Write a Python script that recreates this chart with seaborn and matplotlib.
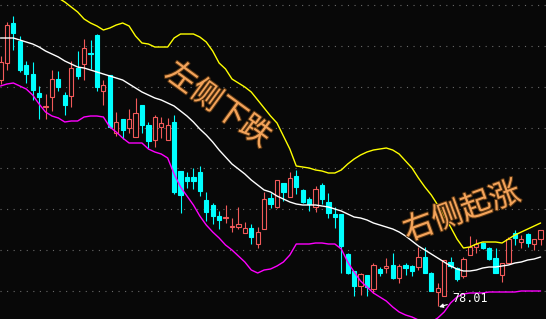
import numpy as np
import pandas as pd
import matplotlib
matplotlib.use("Agg")
import matplotlib.pyplot as plt
import matplotlib.patheffects as pe
import seaborn as sns

# ---- data (price units) ----
opens = [100.6, 102.3, 106.3, 104.5, 102.1, 101.2, 99.3, 97.9, 98.9, 100.7,
         99.1, 99.0, 101.8, 102.2, 103.3, 105.1, 99.5, 101.1, 95.3, 96.7,
         95.8, 94.9, 98.1, 96.1, 94.6, 95.9, 94.6, 96.4, 91.5, 90.9,
         90.9, 91.4, 88.6, 88.1, 87.0, 86.8, 85.9, 85.9, 85.3, 85.8,
         84.2, 85.7, 88.8, 87.9, 90.3, 88.9, 91.0, 89.6, 88.7, 87.9,
         90.1, 88.4, 87.2, 87.2, 83.2, 81.5, 80.0, 81.1, 79.7, 81.7,
         81.8, 82.1, 80.8, 82.1, 82.0, 81.9, 82.9, 81.3, 79.4, 79.0,
         82.4, 81.8, 81.0, 83.1, 83.9, 84.3, 83.8, 82.8, 81.1, 82.3,
         85.3, 84.4, 85.2, 84.2, 84.7]
highs = [103.0, 106.4, 107.0, 105.0, 102.5, 102.4, 100.0, 99.2, 101.6, 101.5,
         99.4, 102.5, 103.5, 104.7, 104.6, 105.2, 100.6, 101.1, 97.4, 96.7,
         97.7, 98.8, 98.1, 96.4, 97.1, 96.9, 96.8, 97.1, 91.5, 91.4,
         91.8, 92.0, 89.4, 88.3, 87.5, 88.1, 86.8, 87.9, 86.4, 86.2,
         85.9, 89.4, 89.3, 90.6, 90.3, 91.4, 91.6, 89.7, 88.9, 90.0,
         90.3, 89.3, 87.9, 87.2, 83.3, 81.5, 81.3, 81.1, 82.3, 81.9,
         82.8, 83.3, 82.2, 82.3, 82.1, 83.9, 83.9, 81.4, 80.3, 82.6,
         82.9, 81.9, 82.9, 85.0, 84.7, 84.4, 83.9, 83.8, 82.3, 84.9,
         85.6, 85.1, 85.3, 84.7, 85.6]
lows = [100.2, 101.6, 103.6, 101.4, 100.3, 98.6, 96.7, 96.7, 97.5, 99.5,
        97.1, 97.9, 100.7, 100.6, 101.7, 99.5, 98.1, 95.8, 95.0, 94.7,
        95.3, 94.9, 95.3, 93.8, 93.9, 94.8, 94.6, 89.2, 87.3, 89.8,
        89.7, 89.0, 86.5, 86.2, 85.7, 86.3, 85.4, 85.7, 85.3, 84.2,
        83.8, 85.7, 87.8, 87.8, 88.5, 88.9, 89.2, 88.3, 87.5, 87.4,
        88.2, 86.8, 85.8, 81.3, 81.2, 79.0, 79.1, 79.0, 79.3, 81.0,
        81.3, 80.7, 80.3, 81.1, 81.0, 81.6, 81.3, 79.5, 78.0, 79.0,
        81.8, 80.5, 80.8, 83.1, 83.3, 83.7, 82.6, 81.3, 80.4, 82.3,
        84.1, 83.8, 83.9, 83.6, 84.1]
closes = [102.4, 106.1, 105.3, 101.6, 101.2, 99.6, 98.9, 98.0, 100.7, 99.9,
          98.1, 101.8, 101.0, 103.8, 103.2, 99.9, 100.1, 95.9, 96.4, 95.6,
          96.7, 97.3, 96.1, 94.5, 96.9, 96.3, 96.1, 89.4, 89.1, 90.5,
          90.5, 89.5, 87.4, 87.0, 86.6, 86.9, 86.0, 86.2, 85.8, 84.9,
          85.4, 88.7, 88.2, 90.6, 89.4, 90.8, 89.9, 88.4, 88.2, 89.7,
          88.7, 87.3, 86.9, 84.0, 81.3, 80.0, 81.2, 79.9, 82.1, 81.3,
          82.0, 80.8, 82.0, 81.8, 81.5, 82.9, 81.3, 79.5, 79.8, 82.6,
          82.0, 80.7, 82.7, 83.9, 84.2, 83.8, 82.7, 81.3, 82.3, 84.7,
          84.8, 84.7, 84.3, 84.7, 85.6]
boll_mid = [104.8, 104.8, 104.8, 104.6, 104.4, 104.2, 103.9, 103.5, 103.2, 102.9,
            102.5, 102.2, 101.9, 101.8, 101.6, 101.4, 101.2, 101.0, 100.8, 100.6,
            100.2, 99.8, 99.4, 99.1, 98.8, 98.6, 98.3, 98.0, 97.5, 97.0,
            96.4, 95.7, 95.1, 94.4, 93.6, 92.9, 92.2, 91.7, 91.2, 90.6,
            90.1, 89.6, 89.4, 89.0, 88.7, 88.4, 88.2, 88.1, 88.1, 88.1,
            88.0, 87.9, 87.7, 87.5, 87.2, 86.9, 86.8, 86.6, 86.3, 86.1,
            85.9, 85.7, 85.4, 85.0, 84.5, 84.0, 83.6, 83.2, 82.8, 82.4,
            82.0, 81.7, 81.5, 81.5, 81.6, 81.8, 81.9, 81.9, 82.0, 82.1,
            82.3, 82.4, 82.6, 82.7, 82.9]
boll_upper = [113.1, 112.6, 112.1, 111.6, 111.1, 110.6, 110.1, 109.6, 109.2, 108.8,
              108.4, 107.9, 107.4, 106.7, 106.3, 106.0, 105.6, 105.8, 106.1, 106.3,
              106.0, 105.0, 104.3, 104.2, 103.9, 103.9, 103.9, 104.8, 105.2, 105.2,
              105.2, 104.9, 104.4, 103.5, 102.3, 101.7, 100.7, 100.3, 99.9, 99.4,
              98.6, 97.8, 97.0, 96.3, 95.0, 93.7, 92.0, 91.9, 91.8, 91.6,
              91.5, 91.3, 91.3, 91.6, 92.2, 92.7, 93.1, 93.4, 93.6, 93.7,
              93.8, 93.6, 93.2, 92.5, 91.8, 90.8, 89.9, 89.1, 88.1, 87.0,
              85.9, 84.7, 83.8, 83.9, 84.2, 84.4, 84.4, 84.4, 84.3, 84.7,
              85.1, 85.4, 85.7, 86.0, 86.3]
boll_lower = [100.0, 100.2, 100.3, 100.0, 99.7, 99.1, 98.2, 97.4, 97.0, 96.8,
              96.4, 96.5, 96.5, 96.9, 97.0, 97.0, 96.9, 95.9, 95.4, 94.8,
              94.3, 94.3, 94.3, 93.7, 93.4, 93.2, 92.8, 91.2, 89.9, 89.0,
              88.1, 87.0, 86.1, 85.4, 84.8, 84.1, 83.6, 83.0, 82.4, 81.6,
              81.3, 81.6, 81.7, 82.0, 82.4, 83.1, 84.2, 84.2, 84.2, 84.3,
              84.3, 84.2, 84.2, 83.7, 82.4, 81.4, 80.5, 79.9, 79.3, 78.9,
              78.5, 77.9, 77.4, 77.1, 76.9, 76.6, 76.4, 76.4, 76.8, 77.4,
              78.3, 78.9, 79.2, 79.3, 79.3, 79.3, 79.4, 79.4, 79.4, 79.4,
              79.4, 79.5, 79.5, 79.5, 79.5]
grid_levels = [79.5, 83.6, 87.7, 91.8, 95.8, 99.9, 104.0, 108.1]
low_label = "78.01"
low_value = 78.0
low_index = 68
label_left = "左侧下跌"
label_right = "右侧起涨"

BG = "#080808"
RED = "#f25a5a"
CYAN = "#00ffff"
ORANGE = "#f3a35a"

sns.set_theme(style="dark", rc={"axes.facecolor": BG, "figure.facecolor": BG,
                                "axes.grid": False})
plt.rcParams['font.family'] = ['Noto Sans CJK SC', 'DejaVu Sans']

df = pd.DataFrame({"idx": np.arange(len(opens)), "open": opens, "high": highs,
                   "low": lows, "close": closes, "mid": boll_mid,
                   "upper": boll_upper, "lower": boll_lower})
up = df["close"] >= df["open"]

fig = plt.figure(figsize=(5.46, 3.19), dpi=100)
ax = fig.add_axes([0, 0, 1, 1])
ax.set_facecolor(BG)

for g in grid_levels:
    ax.axhline(g, color="#6a6a6a", lw=0.8, ls=(0, (1, 4.9)), zorder=0)

# wicks
ax.vlines(df["idx"][up], df["low"][up], df["high"][up], color=RED, lw=0.8, zorder=2)
ax.vlines(df["idx"][~up], df["low"][~up], df["high"][~up], color=CYAN, lw=0.8, zorder=2)

# bodies
w = 0.66
bot = np.minimum(df["open"], df["close"])
hgt = np.maximum(np.abs(df["close"] - df["open"]), 0.08)
ax.bar(df["idx"][up], hgt[up], bottom=bot[up], width=w, facecolor=BG,
       edgecolor=RED, linewidth=0.8, zorder=3)
ax.bar(df["idx"][~up], hgt[~up], bottom=bot[~up], width=w, facecolor=CYAN,
       edgecolor=CYAN, linewidth=0.8, zorder=3)

# Bollinger bands
sns.lineplot(data=df, x="idx", y="mid", color="white", lw=1.0, ax=ax, zorder=4)
sns.lineplot(data=df, x="idx", y="upper", color="#ffff00", lw=1.0, ax=ax, zorder=4)
sns.lineplot(data=df, x="idx", y="lower", color="#ff00ff", lw=1.0, ax=ax, zorder=4)

ax.annotate(low_label, xy=(low_index + 0.2, low_value - 0.1),
            xytext=(low_index + 2.2, 78.8), color="white", fontsize=8.5,
            family="DejaVu Sans Mono", ha="left", va="center",
            arrowprops=dict(arrowstyle="-|>", color="white", lw=0.8,
                            mutation_scale=6, shrinkA=1, shrinkB=0), zorder=6)

eff = [pe.withStroke(linewidth=1.5, foreground="#5a3612")]
ax.text(0.399, 0.671, label_left, transform=ax.transAxes, color=ORANGE,
        fontsize=22, rotation=-36, rotation_mode="anchor", ha="center",
        va="center", path_effects=eff, zorder=7)
ax.text(0.846, 0.335, label_right, transform=ax.transAxes, color=ORANGE,
        fontsize=22, rotation=20, rotation_mode="anchor", ha="center",
        va="center", path_effects=eff, zorder=7)

ax.set_xlim(-0.078, 84.84)
ax.set_ylim(76.7, 108.6)
ax.set_xlabel("")
ax.set_ylabel("")
ax.set_xticks([])
ax.set_yticks([])
for s in ax.spines.values():
    s.set_visible(False)

fig.savefig("out.png", dpi=100, facecolor=BG)
